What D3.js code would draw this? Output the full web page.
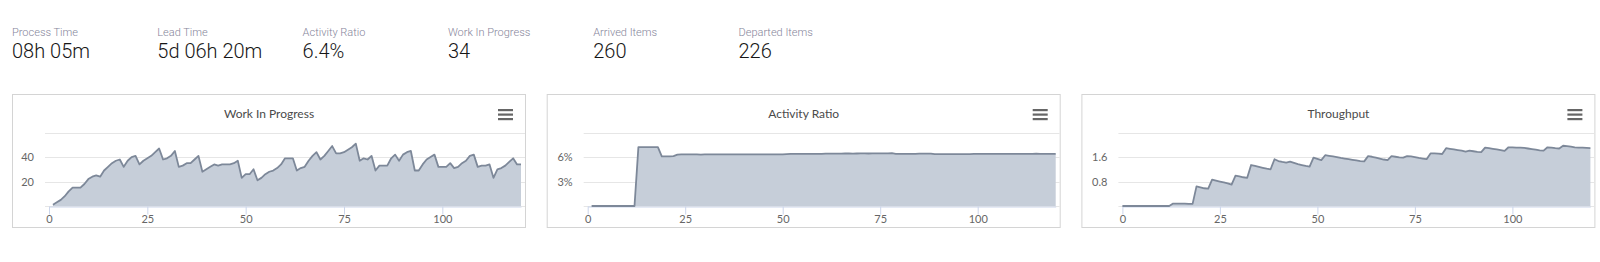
<!DOCTYPE html>
<html>
<head>
<meta charset="utf-8">
<script src="https://cdn.jsdelivr.net/npm/d3@7"></script>
<style>
  html, body { margin: 0; padding: 0; background: #fff; }
  svg text { font-family: Lato, "Open Sans", sans-serif; }
  .kpi-label { font-family: Roboto, sans-serif !important; font-size: 11px; font-weight: 300; fill: #85859a; }
  .kpi-value { font-family: Roboto, sans-serif !important; font-size: 20px; font-weight: 300; fill: #161616; }
  .chart-title { font-size: 12px; fill: #4a4a4a; }
  .tick-label { font-size: 11px; fill: #666; }
</style>
</head>
<body>
<svg id="page" width="1600" height="262"></svg>
<script>
const kpiLabels = ['Process Time', 'Lead Time', 'Activity Ratio', 'Work In Progress', 'Arrived Items', 'Departed Items'];
const kpiValues = ['08h 05m', '5d 06h 20m', '6.4%', '34', '260', '226'];

const xTicks = [0, 25, 50, 75, 100];

// work in progress, days 1..120
const wipDays = d3.range(1, 121);
const wipValues = [
  1, 3, 5, 8, 12, 15, 15, 15, 18, 22,
  24, 25, 24, 29, 32, 35, 37, 38, 32, 37,
  40, 41, 34, 37, 39, 41, 44, 47, 38, 39,
  41, 45, 32, 33, 35, 35, 38, 41, 28, 30,
  32, 34, 33, 34, 34, 34, 35, 37, 23, 26,
  26, 30, 21, 23, 26, 28, 29, 31, 34, 39,
  39, 39, 29, 31, 32, 37, 41, 44, 38, 41,
  45, 49, 43, 43, 44, 46, 48, 51, 37, 39,
  38, 41, 29, 33, 33, 33, 39, 42, 37, 42,
  44, 45, 29, 29, 34, 38, 40, 42, 32, 32,
  32, 35, 31, 32, 35, 37, 41, 42, 32, 33,
  33, 34, 23, 30, 31, 33, 36, 39, 34, 34
];

// activity ratio in %, days 1..120
const ratioDays = d3.range(1, 121);
const ratioValues = [
  0, 0, 0, 0, 0, 0, 0, 0, 0, 0, 0, 0,
  7.22, 7.22, 7.22, 7.22, 7.22, 7.22,
  6.08, 6.08, 6.08, 6.12,
  6.30, 6.33, 6.34, 6.33, 6.33, 6.32, 6.31, 6.32, 6.33, 6.33, 6.34, 6.34, 6.33, 6.33,
  6.32, 6.33, 6.33, 6.34, 6.34, 6.33, 6.33, 6.33, 6.32, 6.32, 6.33, 6.33, 6.32, 6.32,
  6.36, 6.38, 6.39, 6.39, 6.38, 6.39, 6.40, 6.40, 6.39, 6.40, 6.41, 6.41, 6.42,
  6.43, 6.43, 6.44, 6.44, 6.43, 6.44, 6.45, 6.45, 6.44, 6.45, 6.46, 6.46, 6.45, 6.46, 6.47,
  6.40, 6.39, 6.40, 6.40, 6.39, 6.40, 6.41, 6.41, 6.42, 6.42,
  6.36, 6.35, 6.35, 6.36, 6.36, 6.35, 6.36, 6.37, 6.37, 6.37,
  6.38, 6.38, 6.38, 6.39, 6.39, 6.39, 6.39, 6.40, 6.40, 6.40, 6.39,
  6.39, 6.40, 6.40, 6.40, 6.40, 6.41, 6.40, 6.40, 6.40, 6.40, 6.40
];

// throughput, days 0..120
const throughputDays = d3.range(0, 121);
const throughputValues = [
  0, 0, 0, 0, 0, 0, 0, 0, 0, 0, 0, 0, 0,
  0.08, 0.08, 0.08, 0.08, 0.07, 0.07,
  0.64, 0.61, 0.58, 0.57, 0.86, 0.83, 0.80, 0.77, 0.74, 0.70,
  0.99, 0.97, 0.94, 0.92, 1.34, 1.31, 1.28, 1.25, 1.22, 1.20,
  1.53, 1.47, 1.44, 1.42, 1.45, 1.41, 1.37, 1.34, 1.31, 1.29,
  1.58, 1.54, 1.50, 1.66, 1.64, 1.62, 1.60, 1.57, 1.55, 1.53,
  1.51, 1.49, 1.47, 1.46, 1.63, 1.61, 1.58, 1.55, 1.52, 1.50,
  1.63, 1.61, 1.59, 1.58, 1.63, 1.62, 1.60, 1.57, 1.55, 1.53,
  1.72, 1.72, 1.71, 1.70, 1.89, 1.87, 1.85, 1.83, 1.81, 1.78,
  1.81, 1.79, 1.77, 1.76, 1.91, 1.89, 1.87, 1.85, 1.83, 1.80,
  1.92, 1.92, 1.91, 1.91, 1.90, 1.88, 1.86, 1.84, 1.82, 1.81,
  1.92, 1.91, 1.89, 1.88, 1.97, 1.96, 1.94, 1.92, 1.91, 1.91,
  1.90, 1.89
];

const wipTicks = [0, 20, 40, 60];
const ratioTicks = [0, 3, 6, 9];
const throughputTicks = [0, 0.8, 1.6, 2.4];

const charts = [
  { title: 'Work In Progress', days: wipDays, values: wipValues, ticks: wipTicks, fmt: d => d, left: 37 },
  { title: 'Activity Ratio', days: ratioDays, values: ratioValues, ticks: ratioTicks, fmt: d => d + '%', left: 41 },
  { title: 'Throughput', days: throughputDays, values: throughputValues, ticks: throughputTicks, fmt: d3.format('.1f'), left: 41 }
];

const svg = d3.select('#page');

// kpi row
const kpi = svg.append('g');
kpiLabels.forEach((label, i) => {
  const x = 12 + i * 145.3;
  kpi.append('text').attr('class', 'kpi-label').attr('x', x).attr('y', 35.5).text(label);
  kpi.append('text').attr('class', 'kpi-value').attr('x', x).attr('y', 58).text(kpiValues[i]);
});

const BOX_W = 514;
const BOX_TOP = 94;
const BOX_H = 133;
const Y_BOTTOM = 206;
const Y_TOP = 132.6;

function drawChart(c, boxX) {
  const g = svg.append('g');
  const boxRight = boxX + BOX_W;

  g.append('rect')
    .attr('x', boxX + 0.5).attr('y', BOX_TOP + 0.5)
    .attr('width', BOX_W - 1).attr('height', BOX_H)
    .attr('fill', '#fff').attr('stroke', '#d4d4d4');

  g.append('text').attr('class', 'chart-title')
    .attr('x', boxX + BOX_W / 2).attr('y', 117.5)
    .attr('text-anchor', 'middle').text(c.title);

  // context menu icon
  [0, 4.5, 9].forEach(dy => {
    g.append('rect').attr('x', boxRight - 28).attr('y', 109 + dy)
      .attr('width', 15).attr('height', 2.2).attr('fill', '#666');
  });

  const x0 = boxX + c.left;
  const x = d3.scaleLinear().domain([0, 120]).range([x0, boxRight - 5]);
  const y = d3.scaleLinear().domain([0, c.ticks[c.ticks.length - 1]]).range([Y_BOTTOM, Y_TOP]);

  // grid
  g.append('g').selectAll('line').data(c.ticks).join('line')
    .attr('x1', x0 - 4).attr('x2', boxRight - 1)
    .attr('y1', d => Math.round(y(d)) + 0.5).attr('y2', d => Math.round(y(d)) + 0.5)
    .attr('stroke', '#e6e6e6');

  // y labels, first and last hidden
  g.append('g').selectAll('text').data(c.ticks.slice(1, -1)).join('text')
    .attr('class', 'tick-label')
    .attr('x', x0 - 15).attr('y', d => y(d) + 4)
    .attr('text-anchor', 'end')
    .text(c.fmt);

  const pts = c.days.map((d, i) => ({ day: d, v: c.values[i] }));

  g.append('path').datum(pts)
    .attr('fill', '#c6ced9')
    .attr('d', d3.area().x(d => x(d.day)).y0(y(0)).y1(d => y(d.v)));

  const xAxis = g.append('g')
    .attr('transform', `translate(0,${Y_BOTTOM + 0.5})`)
    .call(d3.axisBottom(x).tickValues(xTicks).tickSize(8).tickSizeOuter(0).tickPadding(1));
  xAxis.select('.domain').attr('stroke', '#ccd6eb');
  xAxis.selectAll('.tick line').attr('stroke', '#ccd6eb');
  xAxis.selectAll('.tick text').attr('class', 'tick-label').attr('fill', null)
    .style('font-family', 'Lato, "Open Sans", sans-serif');

  g.append('path').datum(pts)
    .attr('fill', 'none')
    .attr('stroke', '#7d8899')
    .attr('stroke-width', 1.8)
    .attr('stroke-linejoin', 'round')
    .attr('d', d3.line().x(d => x(d.day)).y(d => y(d.v)));
}

charts.forEach((c, i) => drawChart(c, 12 + i * 534.7));
</script>
</body>
</html>
